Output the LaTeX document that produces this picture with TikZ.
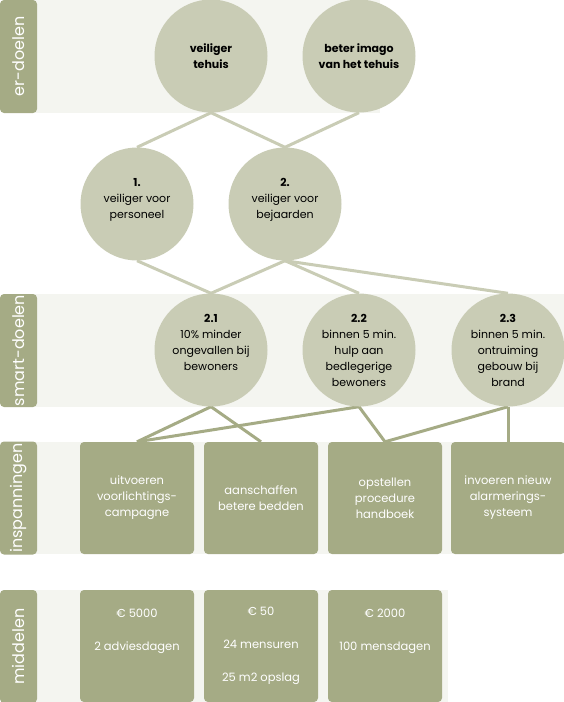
\documentclass[tikz,border=0pt]{standalone}
\usepackage{fontspec}
\setmainfont{Poppins}
\usepackage{tikz}
\usetikzlibrary{backgrounds}
\definecolor{TabOlive}{HTML}{A5AB85}
\definecolor{GoalSage}{HTML}{C9CCB5}
\definecolor{BandMist}{HTML}{F4F5F0}

\begin{document}
\begin{tikzpicture}[x=1pt,y=-1pt,
  goal/.style={circle,fill=GoalSage,minimum size=113pt,inner sep=0pt,
    align=center,font=\fontsize{11}{16}\selectfont},
  topgoal/.style={goal,font=\fontsize{11}{16}\selectfont\bfseries},
  task/.style={fill=TabOlive,rounded corners=4pt,minimum width=114pt,
    minimum height=112pt,inner sep=0pt,align=center,text=white,
    font=\fontsize{11.5}{16}\selectfont},
  means/.style={task,font=\fontsize{11.5}{33}\selectfont},
  tab/.style={fill=TabOlive,rounded corners=4pt,rotate=90,minimum width=113pt,
    minimum height=37pt,inner sep=0pt,text=white,font=\fontsize{16}{16}\selectfont},
  band/.style={fill=BandMist},
  soft/.style={draw=GoalSage,line width=3pt},
  firm/.style={draw=TabOlive,line width=3pt}]
  \useasboundingbox (0,0) rectangle (564,702);
  \begin{pgfonlayer}{background}
    \fill[band] (18,0) rectangle (380,113);
    \fill[band] (18,294) rectangle (564,407);
    \fill[band] (18,442) rectangle (564,554);
    \fill[band] (18,590) rectangle (448,702);
  \end{pgfonlayer}
  % row tabs
  \node[tab] (tabTop) at (18.5,56.5) {er-doelen};
  \node[tab] (tabSmart) at (18.5,350.5) {smart-doelen};
  \node[tab] (tabEffort) at (18.5,498) {inspanningen};
  \node[tab] (tabMeans) at (18.5,646.5) {middelen};
  % goals
  \node[topgoal] (safeHome) at (211,56) {veiliger\\tehuis};
  \node[topgoal] (betterImage) at (359,56) {beter imago\\van het tehuis};
  \node[goal] (staff) at (137,204) {\textbf{1.}\\veiliger voor\\personeel\\[-4pt]\mbox{}};
  \node[goal] (elderly) at (285,204) {\textbf{2.}\\veiliger voor\\bejaarden\\[-4pt]\mbox{}};
  \node[goal] (fewerFalls) at (211,350)
    {\textbf{2.1}\\10\% minder\\ongevallen bij\\bewoners\\\mbox{}};
  \node[goal] (quickHelp) at (359,350)
    {\textbf{2.2}\\binnen 5 min.\\hulp aan\\bedlegerige\\bewoners};
  \node[goal] (evacuation) at (508,350)
    {\textbf{2.3}\\binnen 5 min.\\ontruiming\\gebouw bij\\brand};
  % efforts
  \node[task] (campaign) at (137,498) {uitvoeren\\voorlichtings-\\campagne};
  \node[task] (beds) at (261,498) {aanschaffen\\betere bedden};
  \node[task] (manual) at (385,498) {opstellen\\procedure\\handboek};
  \node[task] (alarm) at (508,498) {invoeren nieuw\\alarmerings-\\systeem};
  % means
  \node[means] (costA) at (137,646) {€ 5000\\2 adviesdagen\\\mbox{}};
  \node[means] (costB) at (261,646) {€ 50\\24 mensuren\\25 m2 opslag};
  \node[means] (costC) at (385,646) {€ 2000\\100 mensdagen\\\mbox{}};
  \begin{pgfonlayer}{background}
    \draw[soft] (safeHome.south) -- (staff.north);
    \draw[soft] (safeHome.south) -- (elderly.north);
    \draw[soft] (betterImage.south) -- (elderly.north);
    \draw[soft] (staff.south) -- (fewerFalls.north);
    \draw[soft] (elderly.south) -- (fewerFalls.north);
    \draw[soft] (elderly.south) -- (quickHelp.north);
    \draw[soft] (elderly.south) -- (evacuation.north);
    \draw[firm] (fewerFalls.south) -- (campaign.north);
    \draw[firm] (fewerFalls.south) -- (beds.north);
    \draw[firm] (quickHelp.south) -- (campaign.north);
    \draw[firm] (quickHelp.south) -- (manual.north);
    \draw[firm] (evacuation.south) -- (manual.north);
    \draw[firm] (evacuation.south) -- (alarm.north);
  \end{pgfonlayer}
\end{tikzpicture}
\end{document}
